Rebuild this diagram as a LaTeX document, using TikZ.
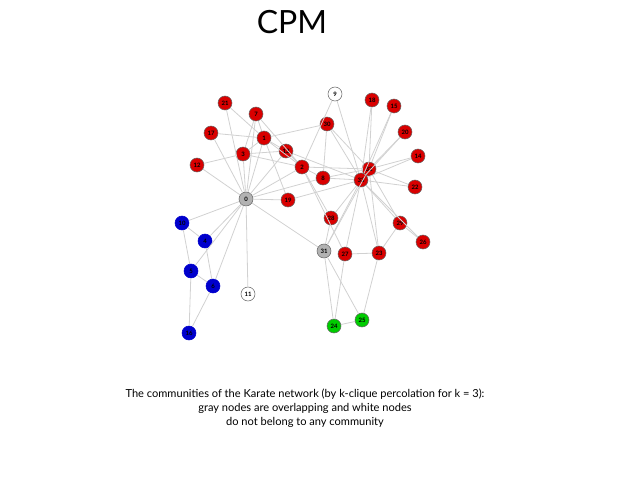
\documentclass[tikz,border=0pt]{standalone}
\usepackage{fontspec}
\setmainfont{Lato}
\begin{document}
\begin{tikzpicture}[x=0.75pt,y=-0.75pt,
  vert/.style={circle,draw=black!60,line width=0.4pt,inner sep=0pt,minimum size=10.5pt,
    font=\fontsize{4.5}{5}\selectfont\bfseries},
  red/.style={vert,fill=red!85!black},
  gray/.style={vert,fill=black!30},
  white/.style={vert,fill=white},
  blue/.style={vert,fill=blue!80!black,draw=blue!80!black},
  green/.style={vert,fill=green!80!black},
  link/.style={draw=black!18,line width=0.6pt}]
\useasboundingbox (0,0) rectangle (638,479);
\node at (292,22) {\fontsize{24}{28}\selectfont CPM};
% vertices
\foreach \n/\x/\y/\s in {0/246/199/gray,1/264/138/red,2/302/167/red,3/243/154/red,
  4/205/241/blue,5/191/271/blue,6/213/286/blue,7/256/114/red,8/323/178/red,
  9/335/94/white,10/182/223/blue,11/248/294/white,12/197/165/red,13/286/151/red,
  14/418/156/red,15/394/106/red,16/189/333/blue,17/211/133/red,18/372/100/red,
  19/288/200/red,20/405/132/red,21/225/103/red,22/415/187/red,23/379/253/red,
  24/334/326/green,25/362/320/green,26/423/242/red,27/345/254/red,28/331/218/red,
  29/400/223/red,30/327/124/red,31/324/251/gray,32/369/169/red,33/361/180/red}
  \node[\s] (v\n) at (\x,\y) {\n};
% edges
\begin{scope}[on background layer/.style={}]
\foreach \a/\b in {0/1,0/2,0/3,0/4,0/5,0/6,0/7,0/8,0/10,0/11,0/12,0/13,0/17,0/19,0/21,0/31,
  1/2,1/3,1/7,1/13,1/17,1/19,1/21,1/30,2/3,2/7,2/8,2/9,2/13,2/27,2/28,2/32,
  3/7,3/12,3/13,4/6,4/10,5/6,5/10,5/16,6/16,8/30,8/32,8/33,9/33,13/33,
  14/32,14/33,15/32,15/33,18/32,18/33,19/33,20/32,20/33,22/32,22/33,
  23/25,23/27,23/29,23/32,23/33,24/25,24/27,24/31,25/31,26/29,26/33,27/33,
  28/31,28/33,29/32,29/33,30/32,30/33,31/32,31/33,32/33}
  \draw[link] (v\a) -- (v\b);
\end{scope}
\node[align=center,font=\fontsize{8.3}{10.5}\selectfont] (cap) at (305,408)
  {The communities of the Karate network (by k-clique percolation for k = 3):\\
   gray nodes are overlapping and white nodes\\
   do not belong to any community};
\end{tikzpicture}
\end{document}
